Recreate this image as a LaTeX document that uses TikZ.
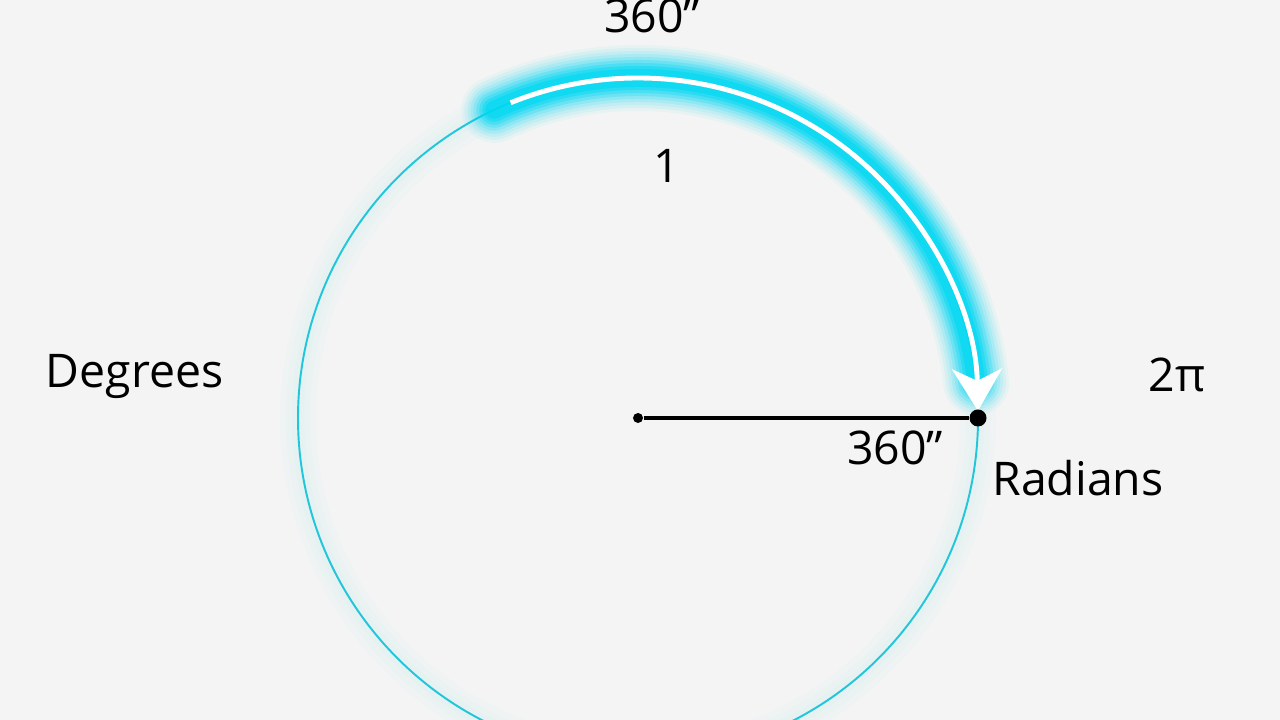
\documentclass[tikz,border=0pt]{standalone}
\usepackage{fontspec}
\setmainfont{Open Sans}
\usepackage{xcolor}
\usetikzlibrary{arrows.meta,calc}
\definecolor{bgcol}{HTML}{F4F4F4}
\definecolor{ringcol}{HTML}{22C6DA}
\definecolor{glowcol}{HTML}{00D8F2}
\tikzset{
    label/.style={font=\fontsize{13.2}{15}\selectfont, text=black, inner sep=0pt, anchor=base},
    dot/.style={circle, fill=black, inner sep=0pt}
}

\begin{document}
\begin{tikzpicture}
    \useasboundingbox (0,0) rectangle (12.8,7.2);
    \fill[bgcol] (0,0) rectangle (12.8,7.2);
    \clip (0,0) rectangle (12.8,7.2);

    % Unit circle with faint haze
    \coordinate (O) at (6.38,3.02);
    \foreach \w in {0.36,0.24,0.12}
        \draw[ringcol, opacity=0.02, line width=\w cm] (O) circle (3.40);
    \draw[ringcol, line width=0.55pt] (O) circle (3.40);

    % Glowing arc
    \foreach \w/\o in {0.66/0.05, 0.60/0.07, 0.54/0.09, 0.48/0.12, 0.42/0.16, 0.36/0.22, 0.30/0.3, 0.24/0.42, 0.18/0.6}
        \draw[glowcol, opacity=\o, line width=\w cm, line cap=round] ($(O)+(115:3.40)$) arc (115:6:3.40);
    \draw[white, line width=1.4pt, -{Stealth[length=0.42cm, width=0.5cm, inset=0.12cm]}]
        ($(O)+(112:3.40)$) arc (112:1.2:3.40);

    % Radius
    \node[dot, minimum size=0.1cm] (C) at (O) {};
    \node[dot, minimum size=0.17cm] (P) at ($(O)+(3.40,0)$) {};
    \draw[black, line width=1.1pt] (C) -- (P);

    % Labels
    \node[label] (topang) at (6.52,6.87) {360”};
    \node[label] (one) at (6.67,5.37) {1};
    \node[label] (deg) at (1.345,3.32) {Degrees};
    \node[label] (twopi) at (11.77,3.28) {2π};
    \node[label] (lowang) at (8.95,2.55) {360”};
    \node[label] (rad) at (10.78,2.24) {Radians};
\end{tikzpicture}
\end{document}
